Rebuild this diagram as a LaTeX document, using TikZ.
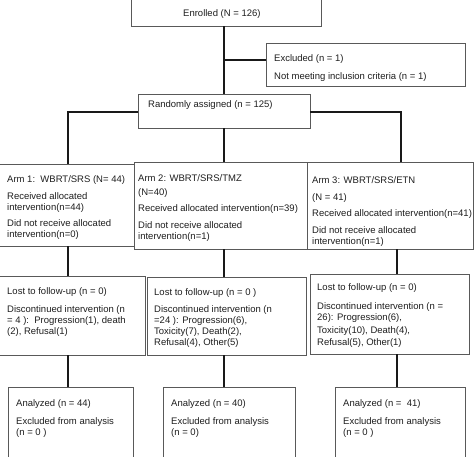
\documentclass[tikz,border=0pt]{standalone}
\usepackage{fontspec}
\setmainfont{Liberation Sans}
\begin{document}
\begin{tikzpicture}[x=1pt,y=-1pt,
  box/.style={draw=black!65,line width=0.8pt,inner sep=0pt,fill=white},
  conn/.style={draw=black!90,line width=1.4pt},
  txt/.style={anchor=mid west,inner sep=0pt,text=black!88,font=\fontsize{9.5}{11}\selectfont}]
\useasboundingbox (0,0) rectangle (474,457);
% column coordinates
\coordinate (k1) at (68,0);
\coordinate (k2) at (224,0);
\coordinate (k3) at (401,0);
\coordinate (k4) at (397,0);
\coordinate (j1) at (224,60);
% boxes
\node[box,minimum width=190pt,minimum height=31pt] (enr) at (226,10.5) {};
\node[box,minimum width=199pt,minimum height=43pt] (exc) at (365.5,64.5) {};
\node[box,minimum width=172pt,minimum height=34pt] (rand) at (224,111) {};
\node[box,minimum width=135pt,minimum height=82pt] (arm1) at (66.5,205) {};
\node[box,minimum width=173pt,minimum height=87pt] (arm2) at (220.5,205.5) {};
\node[box,minimum width=166.5pt,minimum height=87pt] (arm3) at (390.25,205.5) {};
\node[box,minimum width=146pt,minimum height=79pt] (fu1) at (72,315.5) {};
\node[box,minimum width=159pt,minimum height=78pt] (fu2) at (226.5,316) {};
\node[box,minimum width=159pt,minimum height=80pt] (fu3) at (389.5,314) {};
\node[box,minimum width=125pt,minimum height=73pt] (an1) at (70.5,423.5) {};
\node[box,minimum width=132pt,minimum height=73pt] (an2) at (229,423.5) {};
\node[box,minimum width=130pt,minimum height=73pt] (an3) at (400,423.5) {};
% connectors
\draw[conn] (k2 |- enr.south) -- (rand.north);
\draw[conn] (j1) -- (j1 -| exc.west);
\draw[conn] (rand.west |- 0,112) -| (k1 |- arm1.north);
\draw[conn] (rand.east |- 0,112) -| (k3 |- arm3.north);
\draw[conn] (rand.south) -- (k2 |- arm2.north);
\draw[conn] (k1 |- arm1.south) -- (k1 |- fu1.north);
\draw[conn] (k2 |- arm2.south) -- (k2 |- fu2.north);
\draw[conn] (k4 |- arm3.south) -- (k4 |- fu3.north);
\draw[conn] (k1 |- fu1.south) -- (k1 |- an1.north);
\draw[conn] (k2 |- fu2.south) -- (k2 |- an2.north);
\draw[conn] (k4 |- fu3.south) -- (k4 |- an3.north);
% texts
\node[txt] (t1) at (183,14) {Enrolled (N = 126)};
\node[txt] (t2) at (274,59) {Excluded (n = 1)};
\node[txt] (t3) at (274,77) {Not meeting inclusion criteria (n = 1)};
\node[txt] (t4) at (148,105) {Randomly assigned (n = 125)};
% arm 1
\node[txt] (a11) at (7,180) {Arm 1:\ \ WBRT/SRS (N= 44)};
\node[txt] (a12) at (7,197) {Received allocated};
\node[txt] (a13) at (7,207.5) {intervention(n=44)};
\node[txt] (a14) at (7,224) {Did not receive allocated};
\node[txt] (a15) at (7,235) {intervention(n=0)};
% arm 2
\node[txt] (a21) at (138,179) {Arm 2: WBRT/SRS/TMZ};
\node[txt] (a22) at (138,193) {(N=40)};
\node[txt] (a23) at (138,209) {Received allocated intervention(n=39)};
\node[txt] (a24) at (138,226) {Did not receive allocated};
\node[txt] (a25) at (138,236.5) {intervention(n=1)};
% arm 3
\node[txt] (a31) at (312,181) {Arm 3: WBRT/SRS/ETN};
\node[txt] (a32) at (312,198) {(N = 41)};
\node[txt] (a33) at (312,214) {Received allocated intervention(n=41)};
\node[txt] (a34) at (312,231) {Did not receive allocated};
\node[txt] (a35) at (312,241.5) {intervention(n=1)};
% follow-up 1
\node[txt] (f11) at (7,292) {Lost to follow-up (n = 0)};
\node[txt] (f12) at (7,310) {Discontinued intervention (n};
\node[txt] (f13) at (7,321) {= 4 ):\ \ Progression(1), death};
\node[txt] (f14) at (7,332) {(2), Refusal(1)};
% follow-up 2
\node[txt] (f21) at (154,293) {Lost to follow-up (n = 0 )};
\node[txt] (f22) at (154,310) {Discontinued intervention (n};
\node[txt] (f23) at (154,321) {=24 ): Progression(6),};
\node[txt] (f24) at (154,332) {Toxicity(7), Death(2),};
\node[txt] (f25) at (154,343) {Refusal(4), Other(5)};
% follow-up 3
\node[txt] (f31) at (317,288) {Lost to follow-up (n = 0)};
\node[txt] (f32) at (317,307) {Discontinued intervention (n =};
\node[txt] (f33) at (317,318) {26): Progression(6),};
\node[txt] (f34) at (317,331) {Toxicity(10), Death(4),};
\node[txt] (f35) at (317,343) {Refusal(5), Other(1)};
% analyzed
\node[txt] (n11) at (16,404) {Analyzed (n = 44)};
\node[txt] (n12) at (16,422) {Excluded from analysis};
\node[txt] (n13) at (16,433) {(n = 0 )};
\node[txt] (n21) at (171,404) {Analyzed (n = 40)};
\node[txt] (n22) at (171,422) {Excluded from analysis};
\node[txt] (n23) at (171,433) {(n = 0)};
\node[txt] (n31) at (343,404) {Analyzed (n =\ \ 41)};
\node[txt] (n32) at (343,422) {Excluded from analysis};
\node[txt] (n33) at (343,433) {(n = 0 )};
\end{tikzpicture}
\end{document}
